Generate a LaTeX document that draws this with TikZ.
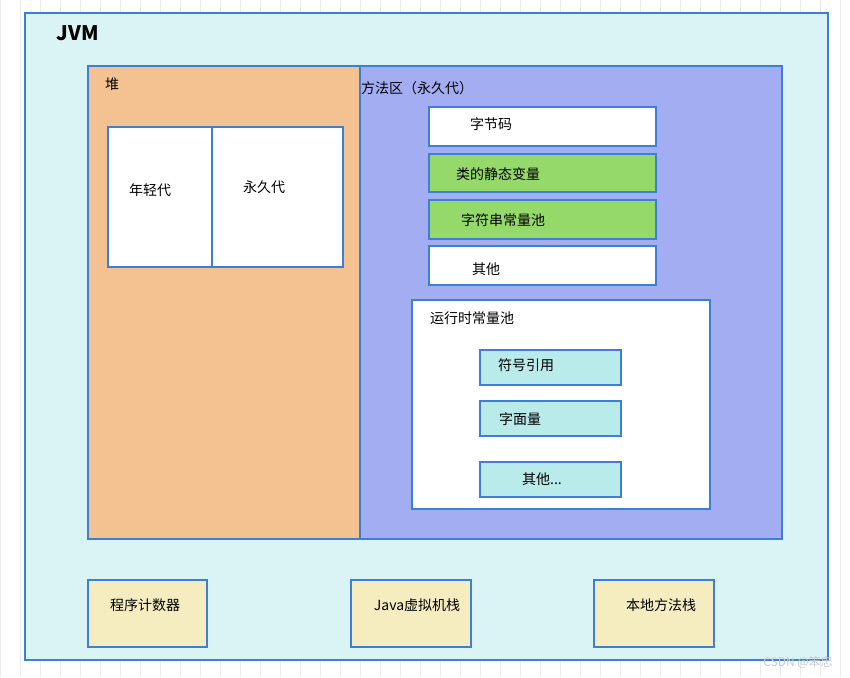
\documentclass[tikz,border=0pt]{standalone}
\usepackage{fontspec}
\setmainfont{Noto Sans CJK SC}
\begin{document}
\begin{tikzpicture}[x=1pt,y=-1pt,
  box/.style={draw=bd,line width=1.2pt},
  lbl/.style={font=\fontsize{14}{16}\selectfont,inner sep=0pt}]
\definecolor{bd}{HTML}{3C7FD6}
\definecolor{jvm}{HTML}{DAF4F5}
\definecolor{heap}{HTML}{F4C290}
\definecolor{meth}{HTML}{A3AEF2}
\definecolor{grn}{HTML}{95D96A}
\definecolor{cyan}{HTML}{B8EBEA}
\definecolor{yel}{HTML}{F5ECC0}
\useasboundingbox (0,0) rectangle (850,677);
\draw[gray!15] (0,0) grid[step=20] (850,677);
\draw[box,fill=jvm] (25,13) rectangle (828,660);
\node[lbl,font=\fontsize{20}{22}\selectfont\bfseries] (jvmt) at (78,33) {JVM};
\draw[box,fill=heap] (88,66) rectangle (360,539);
\node[lbl] (heapt) at (112,84) {堆};
\draw[box,fill=meth] (360,66) rectangle (782,539);
\node[lbl,anchor=west] (metht) at (361,88) {方法区（永久代）};
\draw[box,fill=white] (108,127) rectangle (212,267);
\node[lbl] (young) at (150,190) {年轻代};
\draw[box,fill=white] (212,127) rectangle (343,267);
\node[lbl] (perm) at (264,187) {永久代};
\draw[box,fill=white] (429,107) rectangle (656,146);
\node[lbl] (bc) at (491,124) {字节码};
\draw[box,fill=grn] (429,154) rectangle (656,192);
\node[lbl] (sv) at (498,174) {类的静态变量};
\draw[box,fill=grn] (429,200) rectangle (656,239);
\node[lbl] (sp) at (503,220) {字符串常量池};
\draw[box,fill=white] (429,246) rectangle (656,285);
\node[lbl] (ot) at (486,269) {其他};
\draw[box,fill=white] (412,300) rectangle (710,509);
\node[lbl] (rcp) at (472,318) {运行时常量池};
\draw[box,fill=cyan] (480,350) rectangle (621,385);
\node[lbl] (sym) at (526,365) {符号引用};
\draw[box,fill=cyan] (480,401) rectangle (621,436);
\node[lbl] (lit) at (520,419) {字面量};
\draw[box,fill=cyan] (480,462) rectangle (621,497);
\node[lbl] (ot2) at (542,479) {其他...};
\draw[box,fill=yel] (88,580) rectangle (207,647);
\node[lbl] (pc) at (145,605) {程序计数器};
\draw[box,fill=yel] (351,580) rectangle (471,647);
\node[lbl] (js) at (417,605) {Java虚拟机栈};
\draw[box,fill=yel] (594,580) rectangle (714,647);
\node[lbl] (ns) at (661,605) {本地方法栈};
\node[lbl,text=gray!40,font=\fontsize{12}{14}\selectfont] (wm) at (798,662) {CSDN @笨忠};
\end{tikzpicture}
\end{document}
